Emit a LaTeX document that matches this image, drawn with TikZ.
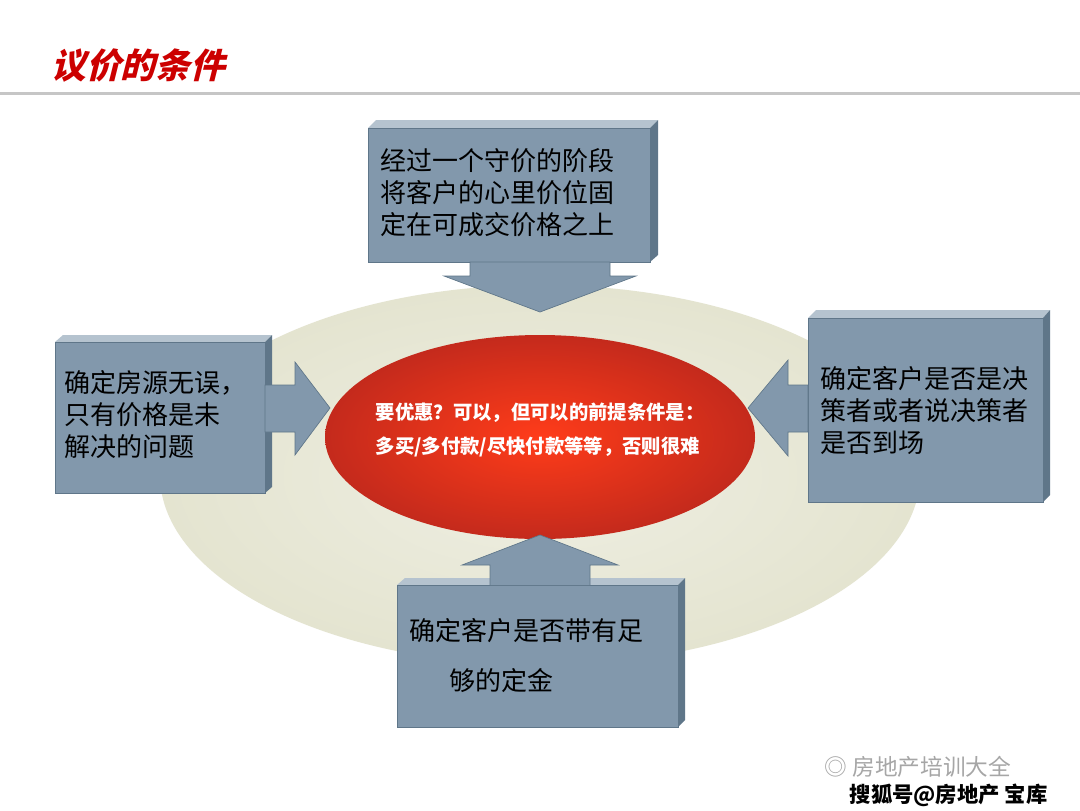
\documentclass[tikz,border=0pt]{standalone}
\usepackage{fontspec}
\setmainfont{Noto Sans CJK SC}
\usetikzlibrary{shapes.geometric}
\definecolor{boxc}{HTML}{8298AC}
\definecolor{boxd}{HTML}{5F7689}
\definecolor{boxl}{HTML}{B5C3CF}
\definecolor{redc}{HTML}{C42A1C}
\definecolor{beige}{HTML}{E4E4D0}
\tikzset{
  boxs/.style={fill=boxc,draw=boxd,line width=0.6pt},
  topface/.style={fill=boxl},
  arr/.style={fill=boxc,draw=boxd,line width=0.5pt},
  txt/.style={font=\fontsize{19.5pt}{24pt}\selectfont,align=left,anchor=north west,text=black}
}
\begin{document}
\begin{tikzpicture}[x=0.75pt,y=-0.75pt]
\useasboundingbox (0,0) rectangle (1080,810);
\fill[white] (0,0) rectangle (1080,810);
% title
\node[anchor=west,text=red!80!black,font=\fontsize{26pt}{30pt}\selectfont\bfseries,xslant=0.25] (title) at (50,66) {议价的条件};
\fill[gray!45] (0,92) rectangle (1080,95);
% background ellipse
\shade[inner color=beige!60!white,outer color=beige] (540,475) ellipse [x radius=380,y radius=190];
% red ellipse
\shade[inner color=red!70!orange!90!white, outer color=redc] (540,437) ellipse [x radius=215,y radius=102];
\node[align=left,font=\fontsize{14.5pt}{26pt}\selectfont\bfseries,text=white] (center) at (540,430) {要优惠？可以，但可以的前提条件是：\\多买/多付款/尽快付款等等，否则很难};
% top box
\path[topface] (368,128) -- (376,120) -- (658,120) -- (650,128) -- cycle;
\path[fill=boxd] (650,128) -- (658,120) -- (658,255) -- (650,262) -- cycle;
\draw[boxs] (368,128) rectangle (650,262);
\draw[arr] (470,262) -- (610,262) -- (610,276) -- (636,276) -- (540,312) -- (444,276) -- (470,276) -- cycle;
\node[txt] (tbox) at (376,144) {经过一个守价的阶段\\将客户的心里价位固\\定在可成交价格之上};
% left box
\path[topface] (55,342) -- (63,335) -- (272,335) -- (265,342) -- cycle;
\path[fill=boxd] (265,342) -- (272,335) -- (272,487) -- (265,493) -- cycle;
\draw[boxs] (55,342) rectangle (265,493);
\draw[arr] (265,385) -- (295,385) -- (295,362) -- (330,408) -- (295,455) -- (295,432) -- (265,432) -- cycle;
\node[txt] (lbox) at (60,366) {确定房源无误，\\只有价格是未\\解决的问题};
% right box
\path[topface] (808,318) -- (816,310) -- (1050,310) -- (1043,318) -- cycle;
\path[fill=boxd] (1043,318) -- (1050,310) -- (1050,495) -- (1043,502) -- cycle;
\draw[boxs] (808,318) rectangle (1043,502);
\draw[arr] (808,385) -- (788,385) -- (788,360) -- (748,408) -- (788,456) -- (788,432) -- (808,432) -- cycle;
\node[txt] (rbox) at (816,362) {确定客户是否是决\\策者或者说决策者\\是否到场};
% bottom box
\path[topface] (397,585) -- (405,578) -- (685,578) -- (678,585) -- cycle;
\path[fill=boxd] (678,585) -- (685,578) -- (685,720) -- (678,727) -- cycle;
\draw[boxs] (397,585) rectangle (678,727);
\draw[arr] (490,585) -- (490,565) -- (462,565) -- (540,535) -- (618,565) -- (590,565) -- (590,585);
\node[txt] (bbox) at (405,614) {确定客户是否带有足};
\node[txt] (bbox2) at (445,664) {够的定金};
% watermark
\node[anchor=west,text=gray!70,font=\fontsize{17pt}{20pt}\selectfont] (wm1) at (820,767) {◎ 房地产培训大全};
\node[anchor=west,text=black,font=\fontsize{16pt}{20pt}\selectfont\bfseries] (wm2) at (845,795) {搜狐号@房地产 宝库};
\end{tikzpicture}
\end{document}
